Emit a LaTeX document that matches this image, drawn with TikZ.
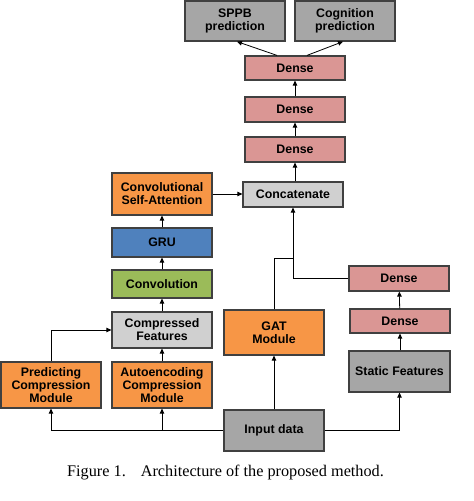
\documentclass[tikz,border=0pt]{standalone}
\usepackage{fontspec}
\setmainfont{Liberation Serif}
\newfontfamily\boxfont{Liberation Sans}
\usetikzlibrary{arrows.meta,calc}
\definecolor{grayD}{HTML}{A6A6A6}
\definecolor{grayL}{HTML}{D0D0D0}
\definecolor{pinkD}{HTML}{DA9694}
\definecolor{orangeB}{HTML}{F79646}
\definecolor{blueB}{HTML}{4F81BD}
\definecolor{greenB}{HTML}{9BBB59}
\definecolor{edgeC}{HTML}{404040}
\begin{document}
\begin{tikzpicture}[x=1bp,y=-1bp,
  blk/.style={draw=edgeC,line width=1.2bp,inner sep=0pt,align=center,
    font=\boxfont\bfseries\fontsize{12.4}{13}\selectfont,
    minimum width=100bp},
  arr/.style={line width=0.8bp,-{Triangle[length=5bp,width=4.5bp]}},
  ln/.style={line width=0.8bp}]
\useasboundingbox (0,0) rectangle (474,501);
\node[blk,fill=grayD,minimum height=40bp] (sppb) at (235,21) {SPPB\\prediction};
\node[blk,fill=grayD,minimum height=40bp] (cog) at (345,21) {Cognition\\prediction};
\node[blk,fill=pinkD,minimum height=24bp] (d1) at (295,68) {Dense};
\node[blk,fill=pinkD,minimum height=25bp] (d2) at (295,109.5) {Dense};
\node[blk,fill=pinkD,minimum height=25bp] (d3) at (295,149.5) {Dense};
\node[blk,fill=grayL,minimum height=25bp] (concat) at (293,194.5) {Concatenate};
\node[blk,fill=orangeB,minimum height=42bp] (csa) at (162,194) {Convolutional\\Self-Attention};
\node[blk,fill=blueB,minimum height=29bp] (gru) at (162,242.5) {GRU};
\node[blk,fill=greenB,minimum height=28bp] (conv) at (162,284) {Convolution};
\node[blk,fill=grayL,minimum height=36bp] (comp) at (162,330) {Compressed\\Features};
\node[blk,fill=orangeB,minimum height=45bp] (gat) at (274,332.5) {GAT\\Module};
\node[blk,fill=pinkD,minimum height=25bp] (dr1) at (399,278.5) {Dense};
\node[blk,fill=pinkD,minimum height=24bp] (dr2) at (400,321) {Dense};
\node[blk,fill=grayD,minimum height=41bp,minimum width=101bp] (static) at (399.5,371.5) {Static Features};
\node[blk,fill=orangeB,minimum height=46bp] (pred) at (51,385) {Predicting\\Compression\\Module};
\node[blk,fill=orangeB,minimum height=46bp] (auto) at (162,385) {Autoencoding\\Compression\\Module};
\node[blk,fill=grayD,minimum height=41bp] (input) at (274,430.5) {Input data};
\node[font=\fontsize{16.3}{18}\selectfont,inner sep=0pt,anchor=base west] (cap) at (67,476) {Figure 1.\hspace{15bp}Architecture of the proposed method.};
\coordinate (j) at (293,258);
% connectors
\draw[arr] ($(d1.north)+(-18,0)$) -- ($(sppb.south)+(2,0)$);
\draw[arr] ($(d1.north)+(12,0)$) -- ($(cog.south)+(-2,0)$);
\draw[arr] (d2) -- (d1);
\draw[arr] (d3) -- (d2);
\draw[arr] (concat.north -| d3.south) -- (d3.south);
\draw[arr] (csa.east) -- (csa.east -| concat.west);
\draw[arr] (gru) -- (csa);
\draw[arr] (conv) -- (gru);
\draw[arr] (comp) -- (conv);
\draw[arr] (auto) -- (comp);
\draw[arr] (pred.north) |- (comp.west);
\draw[ln] (gat.north) |- (j);
\draw[arr] (j) -- (concat.south);
\draw[ln] (dr1.west) -| (j);
\draw[arr] (dr2) -- (dr1);
\draw[arr] (static.north -| dr2.south) -- (dr2.south);
\draw[arr] (input.north) -- (gat.south);
\draw[arr] (input.west) -| (pred.south);
\draw[arr] (auto.south |- input.west) -- (auto.south);
\draw[arr] (input.east) -| (static.south);
\end{tikzpicture}
\end{document}
